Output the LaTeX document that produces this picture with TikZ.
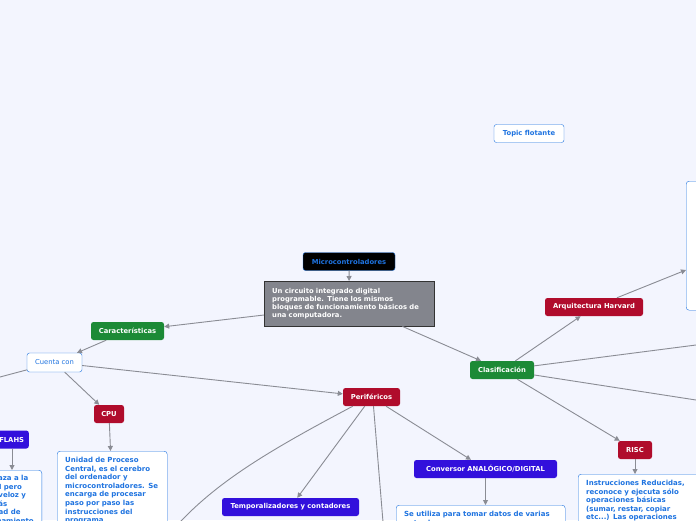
\documentclass[tikz,border=0pt]{standalone}
\usepackage{fontspec}
\setmainfont{DejaVu Sans}
\usetikzlibrary{arrows.meta}
\definecolor{bg}{HTML}{F3F5FE}
\definecolor{bl}{HTML}{1E73E0}
\definecolor{gr}{HTML}{1C8A36}
\definecolor{rd}{HTML}{B00C2C}
\definecolor{vi}{HTML}{3210DC}
\definecolor{ln}{HTML}{8A8C94}
\newcommand\nohyph{\hyphenpenalty=10000\relax\exhyphenpenalty=10000\relax}
\begin{document}
\begin{tikzpicture}[x=1pt,y=-1pt,
 base/.style={font=\bfseries\fontsize{6.8}{8}\selectfont,rounded corners=2.5pt,inner sep=0pt,minimum height=18pt},
 tag/.style={base,text=white,draw=none},
 grn/.style={tag,fill=gr},
 red/.style={tag,fill=rd},
 vio/.style={tag,fill=vi},
 wbox/.style={base,fill=white,draw=bl,text=bl},
 desc/.style={font=\bfseries\fontsize{7}{8.6}\selectfont\nohyph,fill=white,draw=bl,text=bl,rounded corners=3pt,align=left,anchor=north west,inner xsep=8pt,inner ysep=6pt},
 con/.style={draw=ln,line width=0.9pt},
 arr/.style={con,-{Triangle[length=5pt,width=5pt]}}]
\fill[bg] (0,0) rectangle (696,520);
\useasboundingbox (0,0) rectangle (696,520);
\node[wbox,minimum width=70pt] (tf) at (529,133.5) {Topic flotante};
\node[base,fill=black,draw=bl,text=bl,minimum width=92pt] (mc) at (349,261.5) {Microcontroladores};
\node[base,fill=ln!95!black,draw=black!80,rounded corners=0pt,text=white,align=left,text width=154pt,minimum height=45pt,inner xsep=8pt,anchor=north west,font=\bfseries\fontsize{6.8}{8}\selectfont] (main) at (264,281) {Un circuito integrado digital\\programable. Tiene los mismos\\bloques de funcionamiento básicos de\\una computadora.};
\node[grn,minimum width=73pt] (car) at (127.5,331) {Características};
\node[wbox,font=\fontsize{6.8}{8}\selectfont,minimum width=55pt,minimum height=19pt] (cc) at (54.5,362.5) {Cuenta con};
\node[red,minimum width=30pt] (cpu) at (109,414) {CPU};
\node[vio,minimum width=70pt,anchor=east] (fl) at (29,439.5) {Memoria FLAHS};
\node[desc,anchor=north east,inner ysep=5pt] (fld) at (42,470) {Reemplaza a la\\EEPROM pero\\es más veloz y\\tiene más\\capacidad de\\almacenamiento};
\node[desc,text width=94pt] (cpud) at (57,451) {Unidad de Proceso Central, es el cerebro del ordenador y microcontroladores. Se encarga de procesar paso por paso las instrucciones del programa};
\node[red,minimum width=57pt] (per) at (371.5,397) {Periféricos};
\node[vio,minimum width=137pt] (tem) at (290.5,507) {Temporalizadores y contadores};
\node[vio,minimum width=143pt] (adc) at (485.5,469) {Conversor ANALÓGICO/DIGITAL};
\node[desc,text width=153pt] (adcd) at (396,505) {Se utiliza para tomar datos de varias entradas};
\node[grn,minimum width=64pt] (cla) at (502,370) {Clasificación};
\node[red,minimum width=98pt] (har) at (594,307) {Arquitectura Harvard};
\node[red,minimum width=34pt] (risc) at (635,450) {RISC};
\node[desc,text width=110pt] (riscd) at (578,474) {Instrucciones Reducidas, reconoce y ejecuta sólo operaciones básicas (sumar, restar, copiar etc...) Las operaciones};
\node[desc,minimum width=40pt,minimum height=129pt] (hard) at (686,181) {};
\coordinate (cl) at (0,377);
\coordinate (r1) at (696,345);
\coordinate (r2) at (696,400);
\coordinate (p1) at (180,522);
\coordinate (p2) at (383,522);
\draw[arr] (mc) -- (main);
\draw[arr] (main.west|-0,315) -- (car);
\draw[arr] (car) -- (cc);
\draw[con] (cc) -- (cl);
\draw[arr] (cc) -- (cpu);
\draw[arr] (cc) -- (per);
\draw[arr] (cpu) -- (cpud);
\draw[arr] (fl.south-|12,0) -- (12,470);
\draw[arr] (main.south east) ++(-32,0) -- (cla);
\draw[arr] (cla) -- (har);
\draw[arr] (har) -- (hard.west|-0,270);
\draw[arr] (cla) -- (risc);
\draw[arr] (risc) -- (riscd.north-|risc);
\draw[con] (cla) -- (r1);
\draw[con] (cla) -- (r2);
\draw[arr] (per) -- (tem);
\draw[arr] (per) -- (adc);
\draw[arr] (adc) -- (adcd.north-|adc);
\draw[con] (per.south)++(2,0) -- (p2);
\draw[con] (per.south west)++(10,0) .. controls (270,450) and (220,480) .. (p1);
\end{tikzpicture}
\end{document}
